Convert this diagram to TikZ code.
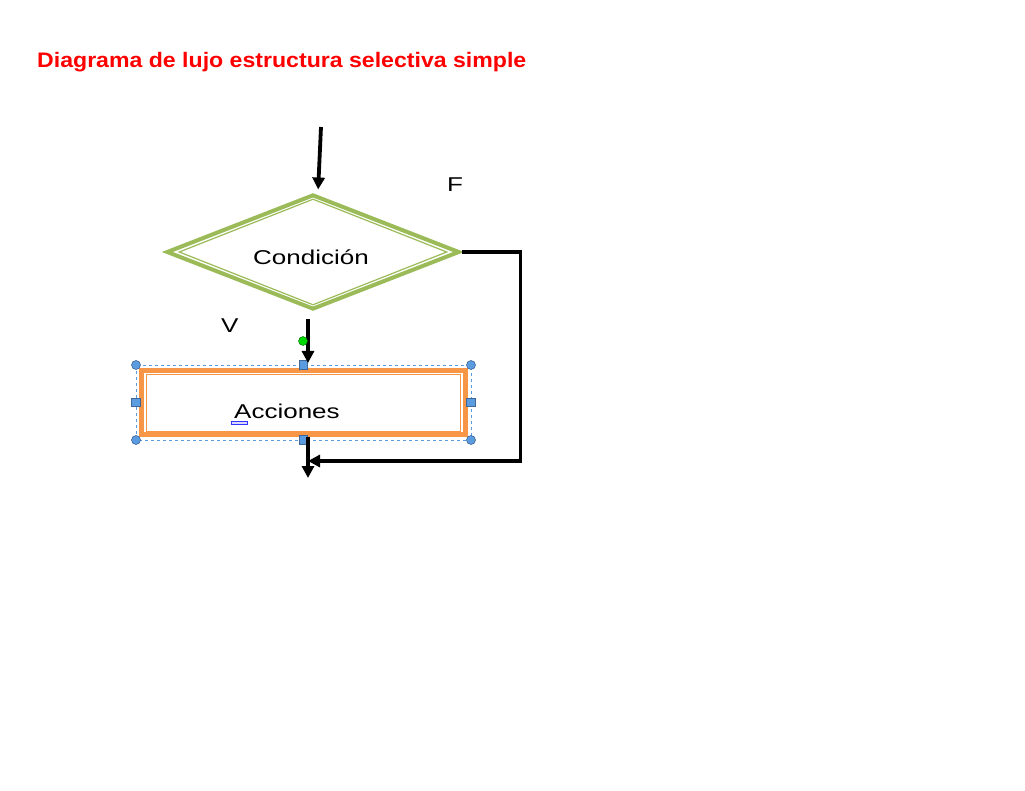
\documentclass[tikz,border=0pt]{standalone}
\usepackage{fontspec}
\setmainfont{Liberation Sans}
\newfontfamily\widefont[FakeStretch=1.3]{Liberation Sans}
\newfontfamily\titlefont[FakeStretch=1.1]{Liberation Sans}
\usetikzlibrary{shapes.geometric,arrows.meta}
\definecolor{condgreen}{HTML}{9BBB59}
\definecolor{accorange}{HTML}{F79646}
\definecolor{selblue}{HTML}{4F81BD}
\definecolor{dashblue}{HTML}{5B9BE0}

\begin{document}
\begin{tikzpicture}[x=1pt, y=-1pt,
    flow/.style={line width=3.8pt, -{Triangle[length=12pt, width=12pt]}},
    cond/.style={draw=condgreen, diamond, inner sep=0pt},
    accbox/.style={draw=accorange, rectangle, inner sep=0pt},
    lbl/.style={font=\widefont\fontsize{20}{24}\selectfont, anchor=base west, inner sep=0pt},
    sqhandle/.style={draw=selblue!80!black, fill=dashblue, rectangle, minimum size=8.5pt, inner sep=0pt, line width=0.6pt},
    rdhandle/.style={draw=selblue!80!black, fill=dashblue, line width=0.6pt}]
    \useasboundingbox (0,0) rectangle (1025,791);

    % title
    \node[anchor=base west, inner sep=0pt, text=red, font=\titlefont\bfseries\fontsize{21}{25}\selectfont] (title) at (37,68) {Diagrama de lujo estructura selectiva simple};

    % decision
    \node[cond, line width=4pt, minimum width=293pt, minimum height=115pt] (cond) at (313,252) {};
    \node[cond, line width=1.2pt, minimum width=268pt, minimum height=106pt] (condin) at (313,252) {};
    \node[lbl] (condtxt) at (253,265) {Condición};
    \node[lbl] (ftxt) at (447,192) {F};
    \node[lbl] (vtxt) at (221,333) {V};

    % action box (selected)
    \node[accbox, line width=5pt, minimum width=324pt, minimum height=64pt] (acc) at (303,402.5) {};
    \node[accbox, line width=1pt, minimum width=314pt, minimum height=57pt] (accin) at (303,402.5) {};
    \node[lbl] (acctxt) at (234,418) {Acciones};
    \draw[blue!80, fill=blue!15, line width=0.8pt] (231,421) rectangle (247,424);
    \draw[dashblue, dashed, line width=0.8pt] (136,365) rectangle (471,440);
    \foreach \px/\py in {136/365, 471/365, 136/440, 471/440}
        \draw[rdhandle] (\px,\py) circle[radius=4.5pt];
    \foreach \px/\py in {303.5/365, 303.5/440, 136/402.5, 471/402.5}
        \node[sqhandle] at (\px,\py) {};

    \coordinate (in) at (321,127);
    \coordinate (join) at (308,461);
    \coordinate (out) at (308,478);

    \draw[flow, shorten >=3pt] (in) -- ([xshift=5pt]cond.north);
    \draw[flow, shorten <=8pt, shorten >=5pt] ([xshift=-5pt]cond.south) -- ([xshift=5pt]acc.north);
    \draw[line width=3.8pt] ([xshift=5pt]acc.south) -- (join);
    \draw[flow] (join) -- (out);
    \draw[flow, line join=miter] (cond.east) -- ++(59,0) |- (join);% false branch
    \draw[draw=green!40!black, fill=green!85!black] (303,341) circle[radius=4.5pt];
\end{tikzpicture}
\end{document}
